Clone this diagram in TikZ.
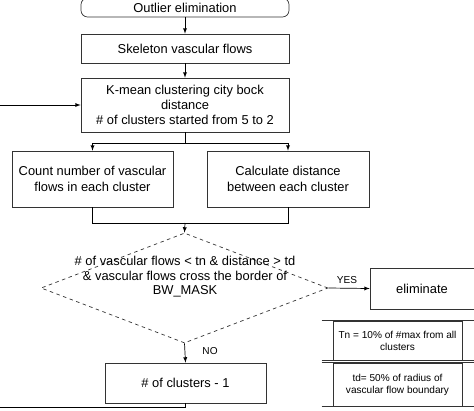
\documentclass[tikz,border=0pt]{standalone}
\usepackage{fontspec}
\setmainfont{Liberation Sans}
\usetikzlibrary{shapes.geometric}

\tikzset{
  proc/.style={draw=black!80, inner sep=0pt, align=center, font=\fontsize{11}{13}\selectfont},
  note/.style={draw=black!80, inner sep=0pt, align=center, font=\fontsize{8.6}{10.2}\selectfont},
  lbl/.style={font=\fontsize{8.6}{10}\selectfont}
}

\begin{document}
\begin{tikzpicture}[x=0.3mm, y=-0.3mm, line width=0.6pt, >=latex]
   \useasboundingbox (0,0) rectangle (474,410);

   \node[proc, rounded corners=2mm, minimum width=62.4mm, minimum height=5.7mm] (outlier) at (185,7.5) {Outlier elimination};
   \node[proc, minimum width=62.4mm, minimum height=8.7mm] (skel) at (185,48.5) {Skeleton vascular flows};
   \node[proc, minimum width=62.4mm, minimum height=16.2mm] (kmean) at (185,105) {K-mean clustering city bock\\distance\\\# of clusters started from 5 to 2};
   \node[proc, minimum width=48.3mm, minimum height=16.8mm] (count) at (92.5,179) {Count number of vascular\\flows in each cluster};
   \node[proc, minimum width=48.6mm, minimum height=16.8mm] (calc) at (288,179) {Calculate distance\\between each cluster};
   \node[draw=black!80, dashed, shape=diamond, inner sep=0pt, minimum width=86.1mm, minimum height=33mm] (cond) at (184.5,288) {};
   \node[align=center, font=\fontsize{11}{12.4}\selectfont] (condtxt) at (185,277) {\# of vascular flows < tn \& distance > td\\\& vascular flows cross the border of\\BW\_MASK};
   \node[proc, minimum width=31.2mm, minimum height=12.3mm] (elim) at (422,288.5) {eliminate};
   \node[proc, minimum width=48.3mm, minimum height=12mm] (clus) at (185.5,383) {\# of clusters - 1};
   \node[note, minimum width=38.7mm, minimum height=11.7mm] (tn) at (397.5,340.5) {Tn = 10\% of \#max from all\\clusters};
   \node[note, minimum width=38.7mm, minimum height=12.9mm] (td) at (397.5,384.5) {td= 50\% of radius of\\vascular flow boundary};

   \draw[black!80] ([xshift=-3.3mm]tn.north west) -- ([xshift=3.6mm]tn.north east);
   \draw[black!80] ([xshift=-3.3mm]tn.south west) -- ([xshift=3.6mm]tn.south east);
   \draw[black!80] ([xshift=-3.3mm]td.north west) -- ([xshift=3.6mm]td.north east);
   \draw[black!80] ([xshift=-3.3mm]td.south west) -- ([xshift=3.6mm]td.south east);

   \coordinate (split) at (185,143);
   \coordinate (merge) at (185,223);
   \coordinate (back) at (-10,407);

   \draw[->] (outlier) -- (skel);
   \draw[->] (skel) -- (kmean);
   \draw (kmean.south) -- (split);
   \draw[->] (split) -| (count.north);
   \draw[->] (split) -| (calc.north);
   \draw (count.south) |- (merge);
   \draw (calc.south) |- (merge);
   \draw[->] (merge) -- (cond.north);
   \draw[->] (cond.east) -- node[lbl, above, pos=0.45] {YES} (elim.west);
   \draw[->] (cond.south) -- node[lbl, right, xshift=4mm, pos=0.4] {NO} (clus.north);
   \draw[->] (clus.south) |- (back) |- (kmean.west);
\end{tikzpicture}
\end{document}
